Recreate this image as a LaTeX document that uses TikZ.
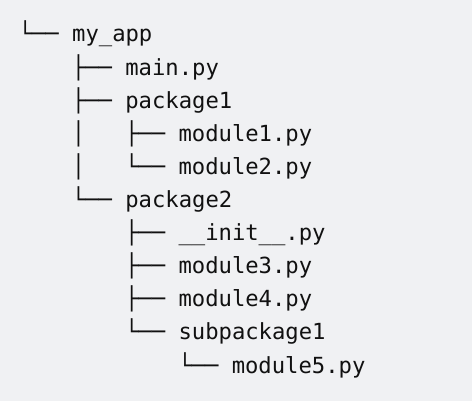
\documentclass[tikz,border=0pt]{standalone}
\usepackage{fontspec}
\setmonofont{DejaVu Sans Mono}
\definecolor{codebg}{HTML}{F0F1F3}
\definecolor{codefg}{HTML}{111111}
\begin{document}
\begin{tikzpicture}[x=1pt,y=-1pt,
entry/.style ={anchor=base west, inner sep=0pt, text=codefg,
  font=\ttfamily\fontsize{22.2}{33}\selectfont
}]
\useasboundingbox (0,0) rectangle (474,404);
\fill[codebg] (0,0) rectangle (471.5,400.5);
% columns are 13.3 wide, rows 33.1 apart
\node (app)   at (18.5,42.0)  [entry] {└── my\_app};
\node (main)  at (71.7,75.1)  [entry] {├── main.py};
\node (pkga)  at (71.7,108.2) [entry] {├── package1};
\node (bara)  at (71.7,141.3) [entry] {│};
\node (moda)  at (124.9,141.3) [entry] {├── module1.py};
\node (barb)  at (71.7,174.4) [entry] {│};
\node (modb)  at (124.9,174.4) [entry] {└── module2.py};
\node (pkgb)  at (71.7,207.5) [entry] {└── package2};
\node (init)  at (124.9,240.6) [entry] {├── \_\_init\_\_.py};
\node (modc)  at (124.9,273.7) [entry] {├── module3.py};
\node (modd)  at (124.9,306.8) [entry] {├── module4.py};
\node (subp)  at (124.9,339.9) [entry] {└── subpackage1};
\node (mode)  at (178.1,373.0) [entry] {└── module5.py};
\end{tikzpicture}
\end{document}
